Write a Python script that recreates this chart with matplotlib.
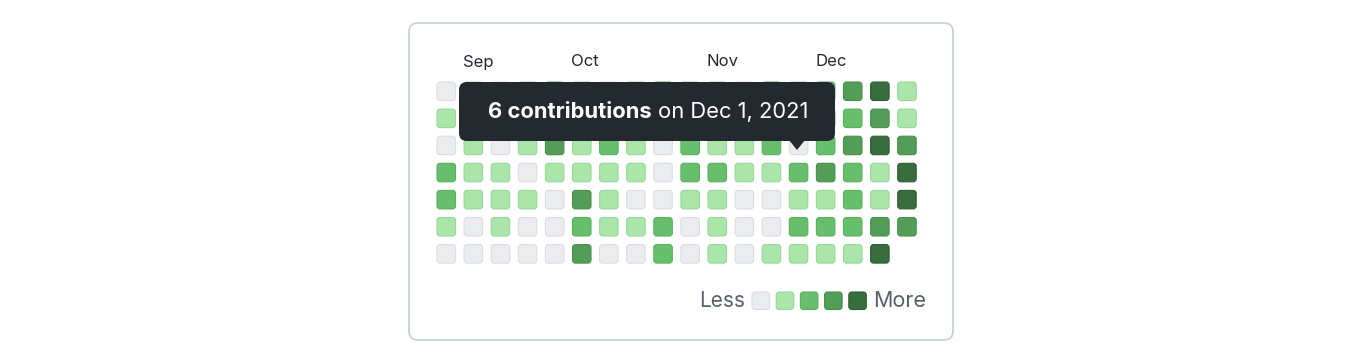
import matplotlib
matplotlib.use("Agg")
from matplotlib import pyplot as plt
from matplotlib.patches import FancyBboxPatch, Polygon

plt.rcParams['font.family'] = ['Inter', 'DejaVu Sans']

# contribution levels, 7 rows (days) x 18 columns (weeks); -1 = no cell
# rows 0-1, cols 1-14 sit under the tooltip
levels = [
    [0, 1, 0, 1, 2, 1, 0, 1, 2, 1, 1, 0, 2, 1, 2, 3, 4, 1],
    [1, 0, 1, 2, 1, 0, 1, 2, 0, 1, 2, 1, 0, 2, 2, 2, 3, 1],
    [0, 1, 0, 1, 3, 1, 2, 1, 0, 2, 1, 1, 2, 0, 2, 3, 4, 3],
    [2, 1, 1, 0, 1, 1, 1, 1, 0, 2, 2, 1, 1, 2, 3, 2, 1, 4],
    [2, 1, 1, 1, 0, 3, 1, 0, 0, 1, 1, 0, 0, 1, 1, 2, 1, 4],
    [1, 0, 1, 0, 0, 2, 1, 1, 2, 0, 1, 0, 0, 2, 2, 2, 3, 3],
    [0, 0, 0, 0, 0, 3, 0, 0, 2, 0, 1, 0, 1, 1, 1, 1, 4, -1],
]
month_labels = ["Sep", "Oct", "Nov", "Dec"]
month_cols = [1, 5, 10, 14]
fills = ["#ebecf0", "#aae5a9", "#68bf6b", "#539d56", "#386d3e"]
edges = ["#dcdde1", "#9ad69a", "#5bb060", "#4a8f4d", "#2f5f35"]

fig = plt.figure(figsize=(13.58, 3.62), dpi=100)
ax = fig.add_axes([0, 0, 1, 1])
ax.set_xlim(0, 1358)
ax.set_ylim(362, 0)
ax.axis("off")

# card
ax.add_patch(FancyBboxPatch((409, 23), 544, 317, boxstyle="round,pad=0,rounding_size=9",
                            fc="white", ec="#c9d1d9", lw=1.3))

x0, y0, pitch, size = 437, 82, 27.1, 18.5
for r, row in enumerate(levels):
    for c, v in enumerate(row):
        if v < 0:
            continue
        ax.add_patch(FancyBboxPatch((x0 + c * pitch, y0 + r * pitch), size, size,
                                    boxstyle="round,pad=0,rounding_size=3",
                                    fc=fills[v], ec=edges[v], lw=0.8))

for lab, c in zip(month_labels, month_cols):
    ax.text(x0 + c * pitch - 1, 62, lab, fontsize=12, color="#24292f", va="center", ha="left")

# legend
ax.text(745, 301, "Less", fontsize=15, color="#57606a", va="center", ha="right")
for i in range(5):
    ax.add_patch(FancyBboxPatch((752 + i * 24.2, 292), 17.5, 17.5,
                                boxstyle="round,pad=0,rounding_size=3",
                                fc=fills[i], ec=edges[i], lw=0.8))
ax.text(873, 301, "More", fontsize=15.5, color="#57606a", va="center", ha="left")

# tooltip
ax.add_patch(FancyBboxPatch((459, 82), 376, 59, boxstyle="round,pad=0,rounding_size=8",
                            fc="#24292f", ec="none", zorder=5))
ax.add_patch(Polygon([[789, 140], [805, 140], [797, 150]], closed=True,
                     fc="#24292f", ec="none", zorder=5))
t = ax.text(488, 112, "6 contributions", fontsize=15.8, fontweight="bold", color="white",
            va="center", ha="left", zorder=6)
fig.canvas.draw()
bb = t.get_window_extent()
xend = ax.transData.inverted().transform((bb.x1, 0))[0]
ax.text(xend + 6, 112, "on Dec 1, 2021", fontsize=15.8, color="white",
        va="center", ha="left", zorder=6)

fig.savefig("out.png", dpi=100)
